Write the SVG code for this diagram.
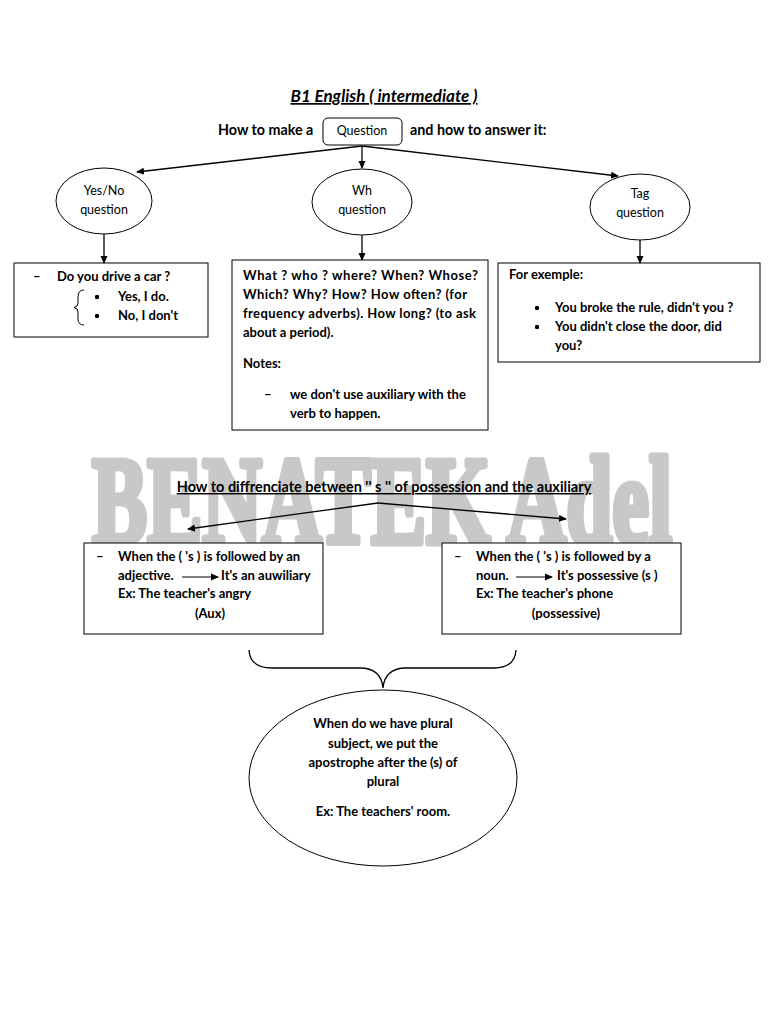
<svg xmlns="http://www.w3.org/2000/svg" width="768" height="1024" viewBox="0 0 768 1024">
<defs>
<marker id="ah" markerWidth="8" markerHeight="8" refX="7" refY="4" orient="auto" markerUnits="userSpaceOnUse">
<path d="M0,0.5 L8,4 L0,7.5 Z" fill="#000"/>
</marker>
<style>
.t{font-family:Lato,"Open Sans",sans-serif;font-size:13px;fill:#000;font-weight:bold}
.n{font-family:Lato,"Open Sans",sans-serif;font-size:12.5px;fill:#000}
.box{fill:#fff;stroke:#000;stroke-width:1}
.ln{stroke:#000;stroke-width:1.3;fill:none}
.c{text-anchor:middle}
</style>
</defs>
<rect width="768" height="1024" fill="#fff"/>
<text x="92" y="543" font-family="Liberation Serif,serif" font-weight="bold" font-size="124" fill="#c8c8c8" stroke="#c8c8c8" stroke-width="7" stroke-linejoin="round" textLength="580" lengthAdjust="spacingAndGlyphs">BENATEK Adel</text>

<g id="title">
<text x="384" y="102" class="t c" font-style="italic" text-decoration="underline" style="font-size:17px">B1 English ( intermediate )</text>
</g>
<g id="question">
<text x="218" y="135" class="t" style="font-size:14.3px">How to make a</text>
<rect x="323" y="118" width="79" height="27" rx="5" class="box"/>
<text x="362" y="135" class="n c">Question</text>
<text x="410" y="135" class="t" style="font-size:14.3px">and how to answer it:</text>
</g>

<g id="connectors">
<line x1="362" y1="146" x2="137" y2="172" class="ln" marker-end="url(#ah)"/>
<line x1="362" y1="146" x2="362" y2="168" class="ln" marker-end="url(#ah)"/>
<line x1="362" y1="146" x2="618" y2="176" class="ln" marker-end="url(#ah)"/>
<line x1="104" y1="234" x2="104" y2="263" class="ln" marker-end="url(#ah)"/>
<line x1="362" y1="235" x2="362" y2="260" class="ln" marker-end="url(#ah)"/>
<line x1="640" y1="240" x2="640" y2="263" class="ln" marker-end="url(#ah)"/>
<line x1="378" y1="503" x2="188" y2="529" class="ln" marker-end="url(#ah)"/>
<line x1="378" y1="503" x2="566" y2="519" class="ln" marker-end="url(#ah)"/>
<path d="M249,650 Q250,668 272,668 L360,668 Q381,668 383,688 Q385,668 406,668 L494,668 Q515,668 516,650" class="ln" stroke-width="1"/>
</g>

<g id="yesno">
<ellipse cx="104" cy="201" rx="48" ry="33" class="box"/>
<text x="104" y="195" class="n c">Yes/No</text>
<text x="104" y="214" class="n c">question</text>
</g>
<g id="wh">
<ellipse cx="362" cy="202" rx="50" ry="33" class="box"/>
<text x="362" y="195" class="n c">Wh</text>
<text x="362" y="214" class="n c">question</text>
</g>
<g id="tag">
<ellipse cx="640" cy="207" rx="50" ry="33" class="box"/>
<text x="640" y="198" class="n c">Tag</text>
<text x="640" y="217" class="n c">question</text>
</g>

<g id="box-yesno">
<rect x="14" y="263" width="194" height="74" class="box"/>
<text x="33" y="281" class="t">–</text>
<text x="57" y="281" class="t">Do you drive a car ?</text>
<path d="M84,290 Q78,290 78,297 L78,303 Q78,307 74,307.5 Q78,308 78,312 L78,319 Q78,325 84,325" fill="none" stroke="#000" stroke-width="1"/>
<circle cx="97" cy="297" r="2.2"/>
<text x="118" y="301" class="t">Yes, I do.</text>
<circle cx="97" cy="316" r="2.2"/>
<text x="118" y="320" class="t">No, I don't</text>
</g>

<g id="box-wh">
<rect x="232" y="260" width="256" height="170" class="box"/>
<text x="243" y="280" class="t" textLength="235" lengthAdjust="spacing">What ? who ? where? When? Whose?</text>
<text x="243" y="299" class="t" textLength="224" lengthAdjust="spacing">Which? Why?  How? How often? (for</text>
<text x="243" y="318" class="t" textLength="233" lengthAdjust="spacing">frequency adverbs). How long? (to ask</text>
<text x="243" y="337" class="t">about a period).</text>
<text x="243" y="368" class="t">Notes:</text>
<text x="264" y="399" class="t">–</text>
<text x="290" y="399" class="t">we don't use auxiliary with the</text>
<text x="290" y="418" class="t">verb to happen.</text>
</g>

<g id="box-tag">
<rect x="498" y="263" width="262" height="99" class="box"/>
<text x="509" y="279" class="t">For exemple:</text>
<circle cx="537" cy="308" r="2.2"/>
<text x="555" y="312" class="t">You broke the rule, didn't you ?</text>
<circle cx="537" cy="327" r="2.2"/>
<text x="555" y="331" class="t">You didn't close the door, did</text>
<text x="555" y="350" class="t">you?</text>
</g>

<g id="subtitle">
<text x="384" y="492" class="t c" text-decoration="underline" style="font-size:14.5px">How to diffrenciate between '' s '' of possession and the auxiliary</text>
</g>

<g id="box-aux">
<rect x="84" y="543" width="239" height="91" class="box"/>
<text x="96" y="561" class="t">–</text>
<text x="118" y="561" class="t">When the ( 's ) is followed by an</text>
<text x="118" y="580" class="t">adjective.</text>
<line x1="182" y1="577" x2="218" y2="577" stroke="#000" stroke-width="1" marker-end="url(#ah)"/>
<text x="221" y="580" class="t">It's an auwiliary</text>
<text x="118" y="598" class="t">Ex: The teacher's angry</text>
<text x="210" y="618" class="t c">(Aux)</text>
</g>

<g id="box-poss">
<rect x="442" y="543" width="239" height="91" class="box"/>
<text x="454" y="561" class="t">–</text>
<text x="476" y="561" class="t">When the ( 's ) is followed by a</text>
<text x="476" y="580" class="t">noun.</text>
<line x1="516" y1="577" x2="552" y2="577" stroke="#000" stroke-width="1" marker-end="url(#ah)"/>
<text x="557" y="580" class="t">It's possessive (s )</text>
<text x="476" y="598" class="t">Ex: The teacher's phone</text>
<text x="566" y="618" class="t c">(possessive)</text>
</g>

<g id="plural">
<ellipse cx="383" cy="778" rx="134" ry="88" class="box"/>
<text x="383" y="728" class="t c">When do we have plural</text>
<text x="383" y="748" class="t c">subject, we put the</text>
<text x="383" y="767" class="t c">apostrophe after the (s) of</text>
<text x="383" y="786" class="t c">plural</text>
<text x="383" y="816" class="t c">Ex: The teachers' room.</text>
</g>
</svg>
